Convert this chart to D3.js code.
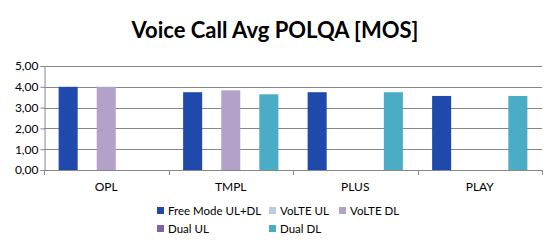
<!DOCTYPE html>
<html>
<head>
<meta charset="utf-8">
<script src="https://cdn.jsdelivr.net/npm/d3@7"></script>
<style>
  body { margin: 0; background: #fff; }
  text { font-family: Lato, "Open Sans", sans-serif; fill: #000; }
</style>
</head>
<body>
<div id="container"></div>
<script>
// chart data
var categories = ["OPL", "TMPL", "PLUS", "PLAY"];
var seriesNames = ["Free Mode UL+DL", "VoLTE UL", "VoLTE DL", "Dual UL", "Dual DL"];
var seriesColors = ["#1F49AB", "#B9CDE5", "#B3A2C7", "#8064A2", "#4BACC6"];
var freeMode = [4.00, 3.74, 3.74, 3.56];
var volteUL = [null, null, null, null];
var volteDL = [4.00, 3.83, null, null];
var dualUL = [null, null, null, null];
var dualDL = [null, 3.64, 3.74, 3.56];
var yTicks = [0, 1, 2, 3, 4, 5];

var allSeries = [freeMode, volteUL, volteDL, dualUL, dualDL];

var W = 552, H = 248;
var margin = {top: 66, right: 10, bottom: 78, left: 44};
var width = 542 - margin.left;
var height = 170 - margin.top;

var svg = d3.select("#container")
  .append("svg")
    .attr("width", W)
    .attr("height", H);

// title
svg.append("text")
  .attr("x", 275)
  .attr("y", 38)
  .attr("text-anchor", "middle")
  .style("font-weight", "bold")
  .style("font-size", "22px")
  .text("Voice Call Avg POLQA [MOS]");

var g = svg.append("g")
  .attr("transform", "translate(" + margin.left + "," + margin.top + ")");

var x = d3.scaleBand()
  .domain(categories)
  .range([0, width])
  .paddingInner(0.235)
  .paddingOuter(0.1175);

var x1 = d3.scaleBand()
  .domain(d3.range(seriesNames.length))
  .range([0, x.bandwidth()]);

var y = d3.scaleLinear()
  .domain([0, 5])
  .range([height, 0]);

// gridlines
g.append("g")
  .selectAll("line")
  .data(yTicks)
  .enter()
  .append("line")
    .attr("x1", 0)
    .attr("x2", width)
    .attr("y1", function (d) { return Math.round(y(d)) + 0.5; })
    .attr("y2", function (d) { return Math.round(y(d)) + 0.5; })
    .style("stroke", "#878787")
    .style("stroke-width", 1);

// y axis
var yAxis = g.append("g")
  .attr("transform", "translate(0.5,0)")
  .call(d3.axisLeft(y).tickValues(yTicks).tickSize(4)
    .tickFormat(function (d) { return d3.format(".2f")(d).replace(".", ","); }));
yAxis.select(".domain").style("stroke", "#878787");
yAxis.selectAll(".tick line").style("stroke", "#878787");
yAxis.selectAll(".tick text")
  .attr("x", -6)
  .style("font-size", "12px")
  .style("font-family", "Lato, 'Open Sans', sans-serif");

// category boundary ticks
var bounds = [0].concat(categories.map(function (c) { return x(c) + x.bandwidth() + x.step() * x.paddingInner() / 2; }));
bounds[bounds.length - 1] = width;
g.append("g")
  .selectAll("line")
  .data(bounds)
  .enter()
  .append("line")
    .attr("x1", function (d) { return Math.round(d) + 0.5; })
    .attr("x2", function (d) { return Math.round(d) + 0.5; })
    .attr("y1", height)
    .attr("y2", height + 5)
    .style("stroke", "#878787");

// category labels
g.append("g")
  .selectAll("text")
  .data(categories)
  .enter()
  .append("text")
    .attr("x", function (d) { return x(d) + x.bandwidth() / 2; })
    .attr("y", height + 21)
    .attr("text-anchor", "middle")
    .style("font-size", "12px")
    .text(function (d) { return d; });

// bars
allSeries.forEach(function (vals, si) {
  g.append("g")
    .selectAll("rect")
    .data(vals.map(function (v, ci) { return {c: categories[ci], v: v}; })
      .filter(function (d) { return d.v !== null; }))
    .enter()
    .append("rect")
      .attr("x", function (d) { return x(d.c) + x1(si); })
      .attr("y", function (d) { return y(d.v); })
      .attr("width", x1.bandwidth())
      .attr("height", function (d) { return height - y(d.v); })
      .style("fill", seriesColors[si]);
});

// legend
var legendPos = [[157, 211], [269, 211], [339, 211], [157, 229], [269, 229]];
var legend = svg.append("g")
  .selectAll("g")
  .data(seriesNames)
  .enter()
  .append("g")
    .attr("transform", function (d, i) { return "translate(" + legendPos[i][0] + "," + legendPos[i][1] + ")"; });

legend.append("rect")
  .attr("x", 0)
  .attr("y", -4)
  .attr("width", 7)
  .attr("height", 7)
  .style("fill", function (d, i) { return seriesColors[i]; });

legend.append("text")
  .attr("x", 11)
  .attr("y", 4)
  .style("font-size", "11.5px")
  .text(function (d) { return d; });
</script>
</body>
</html>
